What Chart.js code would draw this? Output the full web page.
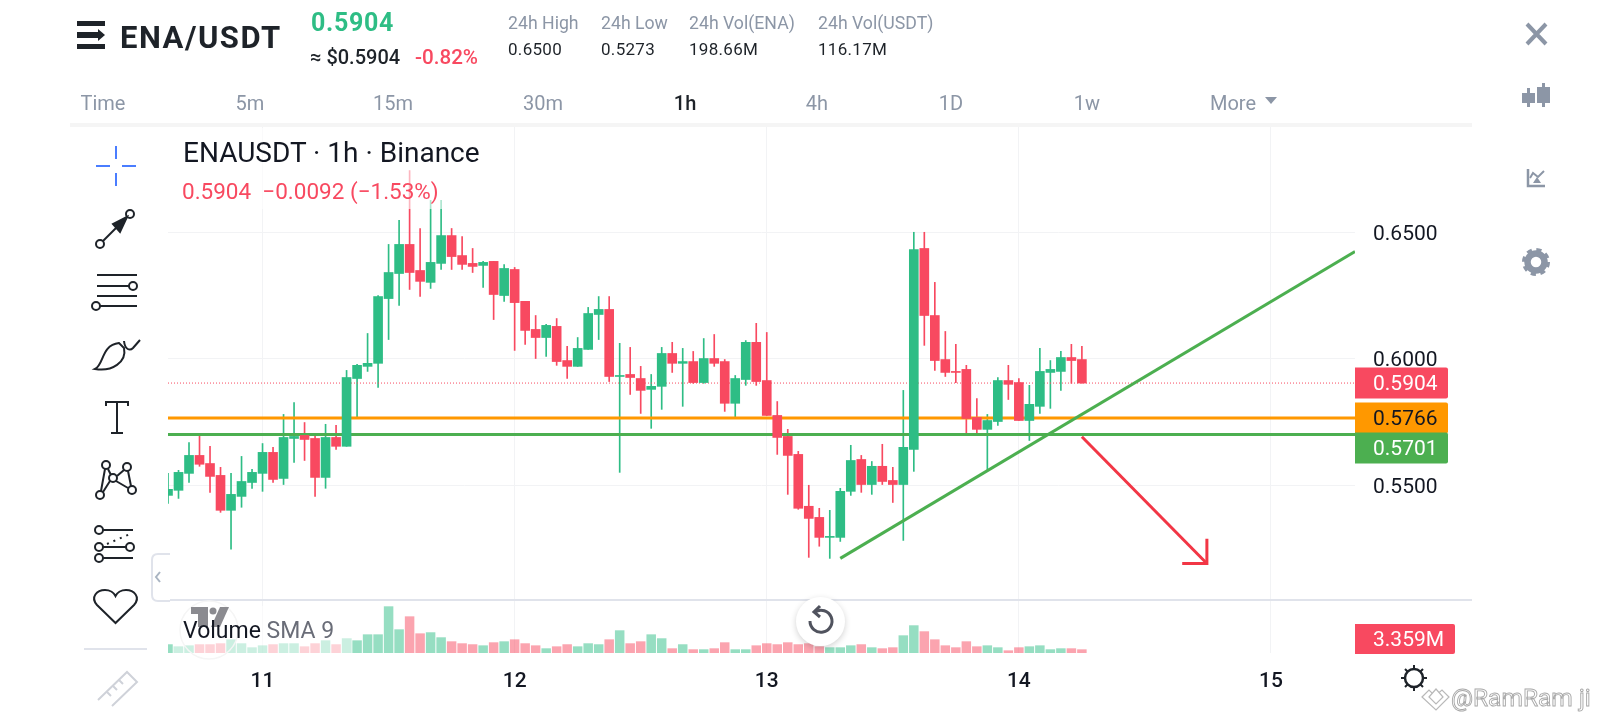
<!DOCTYPE html>
<html>
  <head>
    <title>ENA/USDT</title>
    <meta charset="utf-8" />
    <style>
      html, body { margin: 0; padding: 0; background: #fff; }
      #page { position: relative; width: 1600px; height: 720px; overflow: hidden; background: #fff; font-family: Roboto, sans-serif; }
      #price-chart { position: absolute; left: 0; top: 0; }
      #icons { position: absolute; left: 0; top: 0; }
      .t { position: absolute; white-space: nowrap; line-height: 1; color: #1e2329; }
      .gray { color: #8c96a6; }
      .red { color: #f84960; }
      .tab { font-size: 20px; top: 93px; color: #8c96a6; transform: translateX(-50%); }
      .stat { font-size: 17.7px; color: #8c96a6; top: 15px; }
      .val { font-size: 17px; top: 41px; letter-spacing: 0.3px; }
      #band { position: absolute; left: 70px; top: 123px; width: 1402px; height: 4px; background: #f5f5f5; }
      #title-fade { position: absolute; left: 176px; top: 128px; width: 274px; height: 81px; background: rgba(255, 255, 255, 0.6); }
      #legend-fade { position: absolute; left: 174px; top: 606px; width: 177px; height: 48px; background: rgba(255, 255, 255, 0.5); }
      #reset { position: absolute; left: 796px; top: 597px; width: 49px; height: 49px; border-radius: 50%; background: #fff; box-shadow: 0 2px 6px rgba(0, 0, 0, 0.18); }
    </style>
  </head>
  <body>
    <div id="page">
      <canvas id="price-chart" width="1600" height="720"></canvas>
      <div id="band"></div>
      <div id="title-fade"></div>
      <div id="legend-fade"></div>

      <div class="t" style="left:120px;top:22px;font-size:31px;font-weight:700;letter-spacing:1.5px">ENA/USDT</div>
      <div class="t" style="left:311px;top:10px;font-size:25px;font-weight:700;color:#2ebd85;letter-spacing:.7px">0.5904</div>
      <div class="t" style="left:310px;top:47px;font-size:20px;font-weight:500">≈ $0.5904</div>
      <div class="t red" style="left:415px;top:47px;font-size:20.6px;font-weight:500">-0.82%</div>

      <div class="t stat" style="left:508px">24h High</div>
      <div class="t val" style="left:508px">0.6500</div>
      <div class="t stat" style="left:601px">24h Low</div>
      <div class="t val" style="left:601px">0.5273</div>
      <div class="t stat" style="left:689px">24h Vol(ENA)</div>
      <div class="t val" style="left:689px">198.66M</div>
      <div class="t stat" style="left:818px">24h Vol(USDT)</div>
      <div class="t val" style="left:818px">116.17M</div>

      <div class="t tab" style="left:103px">Time</div>
      <div class="t tab" style="left:250px">5m</div>
      <div class="t tab" style="left:393px">15m</div>
      <div class="t tab" style="left:543px">30m</div>
      <div class="t tab" style="left:685px;color:#1e2329;font-weight:500">1h</div>
      <div class="t tab" style="left:817px">4h</div>
      <div class="t tab" style="left:951px">1D</div>
      <div class="t tab" style="left:1087px">1w</div>
      <div class="t tab" style="left:1233px">More</div>

      <div class="t" style="left:183px;top:139px;font-size:28px;color:#131722">ENAUSDT · 1h · Binance</div>
      <div class="t red" style="left:182px;top:180px;font-size:22.5px">0.5904&nbsp; −0.0092 (−1.53%)</div>

      <svg id="icons" width="1600" height="720" viewBox="0 0 1600 720" fill="none" stroke="#1e2329" stroke-width="2">
        <!-- header logo -->
        <g fill="#1e2329" stroke="none">
          <rect x="77" y="21" width="28" height="5" />
          <rect x="77" y="32" width="21" height="6" />
          <path d="M98 29 L105 35 L98 41 Z" />
          <rect x="77" y="44" width="28" height="5" />
        </g>
        <path d="M1265 97 L1277 97 L1271 104 Z" fill="#8c96a6" stroke="none" />

        <!-- drawing tools -->
        <g stroke="#4a7dff">
          <path d="M116 146 V159 M116 173 V186 M96 166 H110 M122 166 H136" />
        </g>
        <g>
          <circle cx="100" cy="244" r="4" /><circle cx="130" cy="214" r="4" />
          <path d="M103 241 L127 217" />
          <path d="M127 217 L113 224 L120 232 Z" fill="#1e2329" />
          <path d="M97 275 H137 M97 286 H129 M97 296 H137 M99 306 H137" />
          <circle cx="133" cy="286" r="4" /><circle cx="96" cy="306" r="4" />
          <path d="M95 369 C104 365 101 345 119 343 L124 348 C127 362 112 372 95 369 Z" />
          <path d="M124 341 C125 350 130 351 133 348 L140 340" />
          <path d="M106 406 V402 H128 V406 M117 402 V433 M111 433 H123" />
          <circle cx="106" cy="465" r="4" /><circle cx="113" cy="478" r="4" /><circle cx="127" cy="467" r="4" /><circle cx="132" cy="490" r="4" /><circle cx="100" cy="495" r="4" />
          <path d="M105 469 L101 491 M108 469 L111 475 M110 481 L103 492 M117 476 L124 470 M128 471 L131 486 M116 481 L128 488" />
          <circle cx="99" cy="530" r="4" /><circle cx="99" cy="547" r="4" /><circle cx="130" cy="547" r="4" /><circle cx="99" cy="558" r="4" />
          <path d="M103 530 H133 M103 547 H126 M103 558 H133" />
          <path d="M107 544 L130 534" stroke-dasharray="2 5" />
          <path d="M115.5 623 L97 605 C90 597 97 590 105 590 C110 590 114 593 115.5 596 C117 593 121 590 126 590 C134 590 141 597 134 605 Z" />
          <path d="M84 649 H147" stroke="#e0e3eb" />
          <g stroke="#cfd2d9">
            <path d="M98 700 L127 672 L137 682 L112 706" />
            <path d="M107 692 L111 696 M113 686 L117 690 M119 680 L123 684" />
          </g>
        </g>

        <!-- panel collapse tab -->
        <path d="M170 554 H158 Q152 554 152 560 V595 Q152 601 158 601 H170" stroke="#e0e3eb" fill="#fff" />
        <path d="M160 572 L156 577 L160 582" stroke="#a9b4c2" />

        <!-- right toolbar -->
        <g stroke="#8c96a6" fill="#8c96a6">
          <path d="M1527 24 L1546 44 M1546 24 L1527 44" stroke-width="4" fill="none" />
          <path d="M1528.5 88 V107 M1543.5 83 V107" stroke-width="3" />
          <rect x="1523" y="94" width="11" height="8" />
          <rect x="1538" y="88" width="11" height="14" />
          <path d="M1528 169 V186 H1545" stroke-width="2.5" fill="none" />
          <path d="M1530 178 L1533 173 L1538 177 L1544 171" stroke-width="2" fill="none" />
          <path d="M1533 183 H1541 L1537 177 Z" stroke="none" />
          <circle cx="1536" cy="262" r="8.5" stroke-width="6.5" fill="none" />
          <circle cx="1536" cy="262" r="12" stroke-width="4" fill="none" stroke-dasharray="5 4.42" />
        </g>

        <!-- time scale settings -->
        <circle cx="1414" cy="678" r="9" stroke-width="2.5" />
        <path d="M1414 665 V669 M1414 687 V691 M1401 678 H1405 M1423 678 H1427 M1405 669 L1408 672 M1423 669 L1420 672 M1405 687 L1408 684 M1423 687 L1420 684" stroke-width="2" />

        <!-- tv logo -->
        <circle cx="209" cy="630" r="29" stroke="#f5f5f5" stroke-width="1.5" />
        <g fill="#8b8b90" stroke="none">
          <path d="M191 607 H208 V627 H198 V614 H191 Z" />
          <circle cx="213" cy="611" r="3.5" />
          <path d="M220 607 H229 L220 627 H211 Z" />
        </g>

        <!-- watermark -->
        <g stroke="#b9b9b9" stroke-width="1.2" fill="#fff">
          <path d="M1422 697 L1429 690 L1435 696 L1442 690 L1449 697 L1436 710 Z" />
          <path d="M1429 697 L1436 689 L1443 697 L1436 704 Z" />
        </g>
        <text x="1451" y="706" font-family="Roboto, sans-serif" font-size="24.5" fill="#fff" stroke="#a8a8a8" stroke-width="0.9">@RamRam ji</text>
      </svg>

      <div class="t" style="left:183px;top:619px;font-size:23px;color:#131722">Volume <span style="color:#6a6d78">SMA 9</span></div>

      <div id="reset">
        <svg width="49" height="49" viewBox="0 0 49 49" fill="none" stroke="#50535e" stroke-width="3">
          <path d="M19 15 A 11 11 0 1 1 14 24" />
          <path d="M24 9 L18 15 L24 20" />
        </svg>
      </div>
    </div>

    <script src="https://cdn.jsdelivr.net/npm/chart.js"></script>
    <script>
      // hourly candles, first one is 10th 15:00
      var opens = [
        0.5460, 0.5480, 0.5547, 0.5618, 0.5586, 0.5539, 0.5401, 0.5456, 0.5511, 0.5547, 0.5630, 0.5527,
        0.5685, 0.5697, 0.5685, 0.5531, 0.5689, 0.5654, 0.5922, 0.5970, 0.5982, 0.6238, 0.6337, 0.6452,
        0.6349, 0.6302, 0.6377, 0.6487, 0.6408, 0.6377, 0.6369, 0.6385, 0.6250, 0.6353, 0.6227, 0.6116,
        0.6084, 0.6128, 0.5993, 0.5970, 0.6037, 0.6175, 0.6195, 0.5930, 0.5938, 0.5922, 0.5879, 0.5891,
        0.6021, 0.5982, 0.5989, 0.5906, 0.6001, 0.5989, 0.5824, 0.5918, 0.6065, 0.5914, 0.5776, 0.5693,
        0.5622, 0.5417, 0.5373, 0.5294, 0.5294, 0.5476, 0.5602, 0.5503, 0.5575, 0.5519, 0.5503, 0.5642,
        0.6436, 0.6171, 0.5997, 0.5950, 0.5958, 0.5768, 0.5721, 0.5752, 0.5914, 0.5906, 0.5756, 0.5812,
        0.5946, 0.5950, 0.6005, 0.5997
      ];
      var highs = [
        0.5547, 0.5559, 0.5669, 0.5697, 0.5654, 0.5571, 0.5547, 0.5614, 0.5563, 0.5665, 0.5650, 0.5780,
        0.5827, 0.5748, 0.5697, 0.5741, 0.5737, 0.5954, 0.5978, 0.6100, 0.6250, 0.6452, 0.6547, 0.6744,
        0.6515, 0.6626, 0.6626, 0.6515, 0.6483, 0.6436, 0.6385, 0.6385, 0.6372, 0.6361, 0.6227, 0.6171,
        0.6136, 0.6159, 0.6049, 0.6084, 0.6203, 0.6246, 0.6246, 0.6061, 0.6045, 0.5970, 0.5938, 0.6045,
        0.6065, 0.6041, 0.6029, 0.6080, 0.6096, 0.5997, 0.5934, 0.6072, 0.6140, 0.6104, 0.5831, 0.5721,
        0.5634, 0.5500, 0.5409, 0.5401, 0.5488, 0.5658, 0.5618, 0.5594, 0.5662, 0.5571, 0.5875, 0.6500,
        0.6500, 0.6302, 0.6108, 0.6057, 0.5974, 0.5843, 0.5780, 0.5926, 0.5974, 0.5922, 0.5895, 0.6041,
        0.5993, 0.6029, 0.6057, 0.6049
      ];
      var lows = [
        0.5428, 0.5448, 0.5511, 0.5575, 0.5472, 0.5393, 0.5247, 0.5413, 0.5488, 0.5476, 0.5511, 0.5503,
        0.5590, 0.5598, 0.5456, 0.5488, 0.5642, 0.5654, 0.5768, 0.5950, 0.5887, 0.6076, 0.6211, 0.6274,
        0.6246, 0.6278, 0.6353, 0.6353, 0.6353, 0.6341, 0.6282, 0.6155, 0.6227, 0.6033, 0.6057, 0.6001,
        0.6009, 0.5974, 0.5922, 0.5970, 0.6037, 0.6076, 0.5910, 0.5551, 0.5859, 0.5784, 0.5725, 0.5800,
        0.5946, 0.5812, 0.5903, 0.5903, 0.5970, 0.5792, 0.5764, 0.5895, 0.5895, 0.5776, 0.5622, 0.5464,
        0.5405, 0.5215, 0.5259, 0.5211, 0.5278, 0.5460, 0.5472, 0.5464, 0.5503, 0.5432, 0.5282, 0.5555,
        0.6053, 0.5954, 0.5930, 0.5906, 0.5705, 0.5701, 0.5559, 0.5737, 0.5839, 0.5756, 0.5677, 0.5784,
        0.5804, 0.5875, 0.5903, 0.5904
      ];
      var closes = [
        0.5484, 0.5551, 0.5618, 0.5583, 0.5535, 0.5401, 0.5464, 0.5515, 0.5551, 0.5630, 0.5523, 0.5689,
        0.5693, 0.5681, 0.5531, 0.5689, 0.5654, 0.5926, 0.5974, 0.5982, 0.6246, 0.6341, 0.6452, 0.6341,
        0.6306, 0.6381, 0.6487, 0.6404, 0.6373, 0.6365, 0.6381, 0.6254, 0.6357, 0.6222, 0.6112, 0.6084,
        0.6132, 0.5989, 0.5970, 0.6041, 0.6179, 0.6195, 0.5930, 0.5934, 0.5926, 0.5875, 0.5891, 0.6021,
        0.5982, 0.5989, 0.5906, 0.6001, 0.5982, 0.5824, 0.5922, 0.6065, 0.5910, 0.5776, 0.5689, 0.5618,
        0.5409, 0.5369, 0.5294, 0.5298, 0.5476, 0.5598, 0.5503, 0.5575, 0.5515, 0.5503, 0.5650, 0.6432,
        0.6171, 0.5993, 0.5946, 0.5946, 0.5764, 0.5721, 0.5756, 0.5914, 0.5899, 0.5756, 0.5820, 0.5950,
        0.5958, 0.6005, 0.5993, 0.5904
      ];
      // volume in millions
      var volumes = [
        8.0, 6.1, 7.0, 8.0, 8.0, 8.9, 12.5, 8.9, 5.2, 7.0, 8.0, 8.9,
        8.9, 6.1, 8.9, 11.6, 8.0, 13.5, 11.6, 17.1, 17.1, 42.8, 21.7, 33.6,
        18.0, 19.0, 14.4, 10.7, 8.9, 8.0, 7.0, 9.8, 10.7, 12.5, 8.9, 7.0,
        4.3, 6.1, 8.0, 6.1, 8.9, 8.0, 12.5, 20.8, 8.9, 10.7, 17.1, 13.5,
        4.3, 8.0, 3.4, 3.4, 4.3, 9.8, 3.4, 3.4, 7.0, 8.9, 8.0, 9.8,
        8.0, 8.9, 6.1, 5.2, 5.2, 7.0, 8.0, 5.2, 4.3, 5.2, 16.2, 25.4,
        19.9, 12.5, 7.0, 5.2, 10.7, 6.1, 7.0, 5.2, 2.4, 5.2, 6.1, 7.0,
        3.4, 4.3, 4.3, 3.359
      ];

      var dayTicks = [9, 33, 57, 81, 105];
      var dayLabels = ["11", "12", "13", "14", "15"];
      var priceTicks = [0.55, 0.6, 0.65];

      var lastPrice = 0.5904;
      var orangeLevel = 0.5766;
      var greenLevel = 0.5701;
      var lastVolumeLabel = "3.359M";

      // drawn lines, in hours and price
      var trendHours = [64, 113];
      var trendPrices = [0.5211, 0.6424];
      var arrowHours = [87, 98.9];
      var arrowPrices = [0.5692, 0.5191];
      var arrowHeadHours = [98.9, 98.9, 96.55];
      var arrowHeadPrices = [0.5289, 0.5191, 0.5191];

      var GREEN = "#2ebd85";
      var RED = "#f84960";
      var FIRST_HOUR = 0;
      var LAST_HOUR = 113;

      function candleColor(i) {
        return closes[i] >= opens[i] ? GREEN : RED;
      }

      function volumeColor(i) {
        return closes[i] >= opens[i] ? "rgba(46, 189, 133, 0.5)" : "rgba(248, 73, 96, 0.5)";
      }

      function toPoints(xs, ys) {
        return xs.map(function (x, i) {
          return { x: x, y: ys[i] };
        });
      }

      function levelLine(value, color, width, dash, order) {
        return {
          type: "line",
          data: toPoints([FIRST_HOUR, LAST_HOUR], [value, value]),
          yAxisID: "y",
          borderColor: color,
          borderWidth: width,
          borderDash: dash,
          pointRadius: 0,
          order: order,
        };
      }

      function drawnLine(xs, ys, color, width) {
        return {
          type: "line",
          data: toPoints(xs, ys),
          yAxisID: "y",
          borderColor: color,
          borderWidth: width,
          pointRadius: 0,
          order: 1,
        };
      }

      function drawBadge(ctx, top, width, height, fill, textColor, label) {
        ctx.fillStyle = fill;
        ctx.beginPath();
        ctx.roundRect(1355, top, width, height, [0, 2, 2, 0]);
        ctx.fill();
        ctx.fillStyle = textColor;
        ctx.font = "21px Roboto";
        ctx.textAlign = "left";
        ctx.textBaseline = "middle";
        ctx.fillText(label, 1373, top + height / 2 + 2);
      }

      // price tags on the right, pushed down when they would overlap
      var badgePlugin = {
        id: "badges",
        afterDraw: function (chart) {
          var ctx = chart.ctx;
          var y = chart.scales.y;
          var yVol = chart.scales.yVol;
          var tags = [
            { value: lastPrice, fill: RED, text: "#fff" },
            { value: orangeLevel, fill: "#ff9800", text: "#131722" },
            { value: greenLevel, fill: "#4caf50", text: "#fff" },
          ];
          var prevBottom = 0;
          ctx.save();
          tags.forEach(function (tag) {
            var top = Math.max(y.getPixelForValue(tag.value) - 15.5, prevBottom);
            drawBadge(ctx, top, 93, 31, tag.fill, tag.text, tag.value.toFixed(4));
            prevBottom = top + 30;
          });
          var volTop = Math.min(yVol.getPixelForValue(volumes[volumes.length - 1]) - 15, chart.chartArea.bottom - 29);
          drawBadge(ctx, volTop, 100, 30, RED, "#fff", lastVolumeLabel);

          // pane separator
          ctx.strokeStyle = "#e0e3eb";
          ctx.lineWidth = 2;
          ctx.beginPath();
          ctx.moveTo(chart.chartArea.left, 600);
          ctx.lineTo(1472, 600);
          ctx.stroke();
          ctx.restore();
        },
      };

      var hours = opens.map(function (o, i) {
        return i;
      });

      new Chart(document.getElementById("price-chart"), {
        type: "bar",
        plugins: [badgePlugin],
        data: {
          datasets: [
            drawnLine(trendHours, trendPrices, "#4caf50", 3),
            drawnLine(arrowHours, arrowPrices, "#f23645", 3),
            drawnLine(arrowHeadHours, arrowHeadPrices, "#f23645", 3),
            {
              // candle bodies
              data: hours.map(function (h) {
                return { x: h, y: [opens[h], closes[h]] };
              }),
              yAxisID: "y",
              grouped: false,
              barThickness: 9,
              minBarLength: 1,
              backgroundColor: hours.map(candleColor),
              order: 2,
            },
            levelLine(orangeLevel, "#ff9800", 3, [], 3),
            levelLine(greenLevel, "#4caf50", 3, [], 3),
            levelLine(lastPrice, RED, 1, [1, 2], 4),
            {
              // wicks
              data: hours.map(function (h) {
                return { x: h, y: [lows[h], highs[h]] };
              }),
              yAxisID: "y",
              grouped: false,
              barThickness: 1,
              backgroundColor: hours.map(candleColor),
              order: 5,
            },
            {
              data: hours.map(function (h) {
                return { x: h, y: volumes[h] };
              }),
              yAxisID: "yVol",
              grouped: false,
              barThickness: 9.5,
              inflateAmount: 0,
              backgroundColor: hours.map(volumeColor),
              order: 6,
            },
          ],
        },
        options: {
          responsive: false,
          animation: false,
          layout: { padding: { left: 168, top: 124 } },
          plugins: { legend: { display: false }, tooltip: { enabled: false } },
          scales: {
            x: {
              type: "linear",
              offset: false,
              min: FIRST_HOUR,
              max: LAST_HOUR,
              border: { display: false },
              grid: { color: "#f2f3f5", drawTicks: false, offset: false },
              afterBuildTicks: function (scale) {
                scale.ticks = dayTicks.map(function (h) {
                  return { value: h };
                });
              },
              afterFit: function (scale) {
                scale.height = 67;
              },
              ticks: {
                autoSkip: false,
                maxRotation: 0,
                padding: 16,
                color: "#131722",
                font: { family: "Roboto", size: 21, weight: "500" },
                callback: function (value) {
                  return dayLabels[dayTicks.indexOf(value)];
                },
              },
            },
            y: {
              position: "right",
              min: 0.4837,
              max: 0.6928,
              border: { display: false },
              grid: { color: "#f2f3f5", drawTicks: false },
              afterBuildTicks: function (scale) {
                scale.ticks = priceTicks.map(function (p) {
                  return { value: p };
                });
              },
              afterFit: function (scale) {
                scale.width = 245;
              },
              ticks: {
                padding: 18,
                crossAlign: "near",
                labelOffset: 2,
                color: "#131722",
                font: { family: "Roboto", size: 21 },
                callback: function (value) {
                  return value.toFixed(4);
                },
              },
            },
            yVol: {
              display: false,
              min: 0,
              max: 485,
            },
          },
        },
      });
    </script>
  </body>
</html>
